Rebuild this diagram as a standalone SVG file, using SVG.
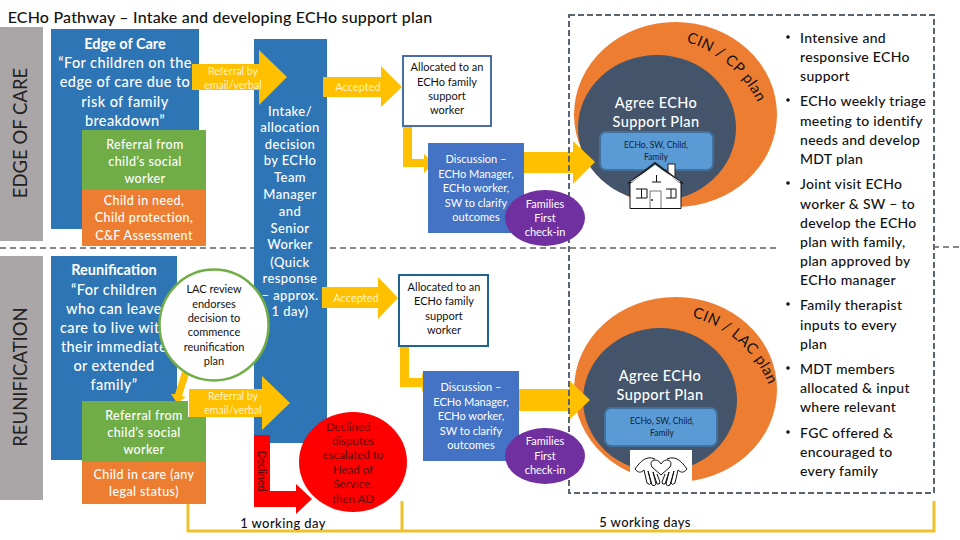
<svg xmlns="http://www.w3.org/2000/svg" width="960" height="540" viewBox="0 0 960 540">
<style>
text{font-family:"Lato","Liberation Sans",sans-serif;text-anchor:middle}
.w{fill:#fff}.k{fill:#111}
.s12{font-size:12.5px}.s11{font-size:11px}.s10{font-size:10.5px}.s13{font-size:13px}.s14{font-size:14.5px}.s8{font-size:8.5px}
.b{font-weight:700}.m{font-weight:500;letter-spacing:.4px}
.ya{fill:#ffc000}.ra{fill:#f00}
.bl{fill:#2e75b6}.gr{fill:#70ad47}.or{fill:#ed7d31}.nv{fill:#44546a}
.gb{fill:#aaa6a7}.pu{fill:#7030a0}
.pill{fill:#5b9bd5;stroke:#41719c;stroke-width:2}
.dash{fill:none;stroke:#111;stroke-width:1;stroke-dasharray:6 4}
.tl{fill:none;stroke:#eec22d;stroke-width:3}
.bul text{text-anchor:start;font-size:14px;fill:#111;font-weight:500;letter-spacing:.3px}
.cv{font-size:15px;fill:#111;text-anchor:start;letter-spacing:.5px}
.rt{fill:#5c0a0a;font-size:11.5px}
.ln{fill:none;stroke:#111;stroke-width:1}
.band{font-size:18.5px;fill:#222}
</style>
<rect width="960" height="540" fill="#fff"/>
<text id="title" x="220" y="23" style="font-size:16px;letter-spacing:.2px" class="k m">ECHo Pathway – Intake and developing ECHo support plan</text>
<path class="dash" d="M0 248H777M933 247H960"/>

<g id="band-edge"><rect class="gb" x="0" y="27" width="43" height="214"/>
<text class="band" transform="translate(27 133) rotate(-90)">EDGE OF CARE</text></g>
<g id="band-reunification"><rect class="gb" x="0" y="256" width="43" height="244"/>
<text class="band" transform="translate(27 377) rotate(-90)">REUNIFICATION</text></g>

<g id="edge-of-care"><rect class="bl" x="51" y="29" width="148" height="200"/>
<text class="w s14 b" x="125" y="49">Edge of Care</text>
<text class="w s14 m" x="125" y="68">“For children on the</text>
<text class="w s14 m" x="125" y="87">edge of care due to</text>
<text class="w s14 m" x="125" y="107">risk of family</text>
<text class="w s14 m" x="125" y="126">breakdown”</text></g>
<g id="edge-referral"><rect class="gr" x="82" y="130" width="124" height="60"/>
<text class="w s12 m" x="145" y="149">Referral from</text><text class="w s12 m" x="145" y="166">child’s social</text><text class="w s12 m" x="145" y="183">worker</text></g>
<g id="edge-need"><rect class="or" x="82" y="190" width="124" height="56"/>
<text class="w s12 m" x="144" y="205">Child in need,</text><text class="w s12 m" x="144" y="222">Child protection,</text><text class="w s12 m" x="144" y="240">C&amp;F Assessment</text></g>

<g id="reunification"><rect class="bl" x="51" y="256" width="126" height="204"/>
<text class="w s14 b" x="114" y="275">Reunification</text>
<text class="w s14 m" x="114" y="295">“For children</text>
<text class="w s14 m" x="114" y="314">who can leave</text>
<text class="w s14 m" x="114" y="333">care to live with</text>
<text class="w s14 m" x="114" y="352">their immediate</text>
<text class="w s14 m" x="114" y="371">or extended</text>
<text class="w s14 m" x="114" y="390">family”</text></g>

<g id="intake"><rect class="bl" x="254" y="39" width="73" height="404"/>
<text class="w s13 m" x="290" y="116">Intake/</text><text class="w s13 m" x="290" y="132">allocation</text><text class="w s13 m" x="290" y="149">decision</text><text class="w s13 m" x="290" y="165">by ECHo</text><text class="w s13 m" x="290" y="182">Team</text><text class="w s13 m" x="290" y="199">Manager</text><text class="w s13 m" x="290" y="216">and</text><text class="w s13 m" x="290" y="233">Senior</text><text class="w s13 m" x="290" y="249">Worker</text><text class="w s13 m" x="290" y="267">(Quick</text><text class="w s13 m" x="290" y="283">response</text><text class="w s13 m" x="290" y="300">– approx.</text><text class="w s13 m" x="290" y="316">1 day)</text></g>

<defs>
<path id="arc1" d="M686 42A115 115 0 0 1 760 108L775 140"/>
<path id="arc2" d="M692 317A115 115 0 0 1 770 388L785 420"/>
</defs>

<g id="plan-top">
<ellipse class="or" cx="675.5" cy="114.5" rx="101.5" ry="92.5"/>
<ellipse class="nv" cx="657" cy="128" rx="79" ry="73"/>
<text class="cv"><textPath href="#arc1">CIN / CP plan</textPath></text>
<text class="w s14 m" x="656" y="108">Agree ECHo</text><text class="w s14 m" x="656" y="127">Support Plan</text>
<rect class="pill" x="600" y="132" width="113" height="38" rx="6"/>
<text class="s8" fill="#10203a" x="656" y="148">ECHo, SW, Child,</text><text class="s8" fill="#10203a" x="656" y="160">Family</text>
</g>
<g id="house">
<rect x="668" y="164" width="7" height="14" fill="#fff" stroke="#222"/>
<polygon points="630,202 630,184 655,165 681,184 681,209 630,209" fill="#fff"/>
<path d="M628 184L655 163L683 184" fill="none" stroke="#222" stroke-width="2"/>
<path d="M631 182L655 166L680 182" fill="none" stroke="#fff"/>
<path class="ln" d="M630 184V208.500H681V184M636 189H647V198H636M641.500 189V198M666 189H676V198H666M671 189V198M652 182H661M656.500 175V182"/>
<path d="M650 208V191H661V208" fill="none" stroke="#777"/>
<circle cx="652" cy="200" r="1" fill="#222"/>
</g>

<g id="plan-bottom">
<ellipse class="or" cx="675.500" cy="389.500" rx="101.500" ry="92.500"/>
<ellipse class="nv" cx="660" cy="400" rx="77" ry="72"/>
<text class="cv"><textPath href="#arc2">CIN / LAC plan</textPath></text>
<text class="w s14 m" x="660" y="381">Agree ECHo</text><text class="w s14 m" x="660" y="400">Support Plan</text>
<rect class="pill" x="605" y="408" width="112" height="38" rx="6"/>
<text class="s8" fill="#10203a" x="662" y="424">ECHo, SW, Child,</text><text class="s8" fill="#10203a" x="662" y="436">Family</text>
</g>
<g id="hands">
<rect x="630" y="450" width="62" height="43" fill="#fff"/>
<path class="ln" d="M661 464C657 457 648 460 652 467L661 475L670 467C674 460 665 457 661 464Z"/>
<path class="ln" stroke-width="1.200" d="M655 459C646 455 640 462 635 469C638 473 641 473 644 470L647 483Q650 486 651 483L648 471L652 485Q655 487 656 484L653 472L657 484Q660 485 660 482L657 474"/>
<path class="ln" stroke-width="1.200" transform="translate(1322 0) scale(-1 1)" d="M655 459C646 455 640 462 635 469C638 473 641 473 644 470L647 483Q650 486 651 483L648 471L652 485Q655 487 656 484L653 472L657 484Q660 485 660 482L657 474"/>
</g>

<g id="connectors">
<polygon class="ya" points="192,64 259,64 259,50 287,77 259,105 259,90 192,90"/>
<polygon class="ya" points="323,77 381,77 381,66 402,87 381,107 381,97 323,97"/>
<polygon class="ya" points="403,126 412,126 412,159 424,159 424,154 434,163 424,173 424,167 403,167"/>
<polygon class="ya" points="524,152 573,152 573,141 595,162 573,184 573,173 524,173"/>
<polygon class="ya" points="189,389 262,389 262,376 290,403 262,430 262,417 189,417"/>
<polygon class="ya" points="322,287 378,287 378,277 398,298 378,319 378,308 322,308"/>
<polygon class="ya" points="400,346 409,346 409,378 422,378 422,373 430,382 422,392 422,387 400,387"/>
<polygon class="ya" points="519,389 569,389 569,380 590,400 569,420 569,411 519,411"/>
<polygon class="ya" points="182,372 189,374 182,396 186,397 177,403 171,394 175,394"/>
<polygon class="ra" points="254,435 270,435 270,491 296,491 296,484 312,499 296,514 296,507 254,507"/>
<path class="tl" d="M188 503V531H934V501M402 501V531"/>
</g>

<g id="arrow-labels">
<text class="s10" fill="#fff3cc" x="233" y="75">Referral by</text><text class="s10" fill="#fff3cc" x="233" y="89">email/verbal</text>
<text class="s11" fill="#fff3cc" x="358" y="91">Accepted</text>
<text class="s11" fill="#fff3cc" x="356" y="302">Accepted</text>
<text class="s10" fill="#fff3cc" x="233" y="400">Referral by</text><text class="s10" fill="#fff3cc" x="233" y="414">email/verbal</text>
<text class="s10" fill="#400" transform="translate(258 471) rotate(90)">Declined</text>
</g>

<g id="reunification-referral"><rect class="gr" x="82" y="401" width="106" height="61"/><rect class="gr" x="188" y="417" width="18" height="45"/>
<text class="w s12 m" x="144" y="420">Referral from</text><text class="w s12 m" x="144" y="437">child’s social</text><text class="w s12 m" x="144" y="454">worker</text></g>
<g id="reunification-care"><rect class="or" x="82" y="462" width="124" height="42"/>
<text class="w s12 m" x="144" y="479">Child in care (any</text><text class="w s12 m" x="144" y="496">legal status)</text></g>

<g id="lac-review"><ellipse cx="214" cy="325" rx="54.5" ry="55.5" fill="#fff" stroke="#70ad47" stroke-width="2.5"/>
<text class="k s11" x="214" y="293">LAC review</text><text class="k s11" x="214" y="308">endorses</text><text class="k s11" x="214" y="322">decision to</text><text class="k s11" x="214" y="336">commence</text><text class="k s11" x="214" y="351">reunification</text><text class="k s11" x="214" y="365">plan</text></g>

<g id="declined"><ellipse cx="353" cy="462" rx="54" ry="50" fill="#f00"/>
<text class="rt" x="353" y="431">Declined –</text><text class="rt" x="353" y="445">disputes</text><text class="rt" x="353" y="459">escalated to</text><text class="rt" x="353" y="474">Head of</text><text class="rt" x="353" y="488">Service,</text><text class="rt" x="353" y="503">then AD</text></g>

<g id="allocated-1"><rect x="403" y="56" width="88" height="70" fill="#fff" stroke="#4a6ea8" stroke-width="2"/>
<text class="k s11" x="447" y="71">Allocated to an</text><text class="k s11" x="447" y="86">ECHo family</text><text class="k s11" x="447" y="100">support</text><text class="k s11" x="447" y="114">worker</text></g>
<g id="allocated-2"><rect x="399" y="275" width="89" height="71" fill="#fff" stroke="#1f6391" stroke-width="2"/>
<text class="k s11" x="444" y="291">Allocated to an</text><text class="k s11" x="444" y="305">ECHo family</text><text class="k s11" x="444" y="320">support</text><text class="k s11" x="444" y="334">worker</text></g>

<g id="discussion-1"><rect x="428" y="143" width="96" height="90" fill="#4472c4"/>
<text class="w s11" x="476" y="163">Discussion –</text><text class="w s11" x="476" y="178">ECHo Manager,</text><text class="w s11" x="476" y="192">ECHo worker,</text><text class="w s11" x="476" y="207">SW to clarify</text><text class="w s11" x="476" y="221">outcomes</text></g>
<g id="discussion-2"><rect x="423" y="371" width="96" height="90" fill="#4472c4"/>
<text class="w s11" x="471" y="391">Discussion –</text><text class="w s11" x="471" y="406">ECHo Manager,</text><text class="w s11" x="471" y="420">ECHo worker,</text><text class="w s11" x="471" y="435">SW to clarify</text><text class="w s11" x="471" y="449">outcomes</text></g>

<rect id="support-frame" x="569" y="15" width="365" height="478" fill="none" stroke="#5a6470" stroke-width="2" stroke-dasharray="6 3"/>

<g id="families-1"><ellipse class="pu" cx="545" cy="218" rx="40" ry="28"/>
<text class="w s11" x="545" y="208">Families</text><text class="w s11" x="545" y="222">First</text><text class="w s11" x="545" y="236">check-in</text></g>
<g id="families-2"><ellipse class="pu" cx="545" cy="456" rx="40" ry="28"/>
<text class="w s11" x="545" y="445">Families</text><text class="w s11" x="545" y="460">First</text><text class="w s11" x="545" y="474">check-in</text></g>

<g id="notes" class="bul">
<g fill="#111">
<circle cx="788" cy="37" r="1.800"/><circle cx="788" cy="100" r="1.800"/><circle cx="788" cy="183" r="1.800"/><circle cx="788" cy="304" r="1.800"/><circle cx="788" cy="368" r="1.800"/><circle cx="788" cy="432" r="1.800"/>
</g>
<text x="800" y="43">Intensive and</text><text x="800" y="62">responsive ECHo</text><text x="800" y="81">support</text>
<text x="800" y="106">ECHo weekly triage</text><text x="800" y="126">meeting to identify</text><text x="800" y="145">needs and develop</text><text x="800" y="164">MDT plan</text>
<text x="800" y="189">Joint visit ECHo</text><text x="800" y="209">worker &amp; SW – to</text><text x="800" y="228">develop the ECHo</text><text x="800" y="247">plan with family,</text><text x="800" y="266">plan approved by</text><text x="800" y="285">ECHo manager</text>
<text x="800" y="310">Family therapist</text><text x="800" y="330">inputs to every</text><text x="800" y="349">plan</text>
<text x="800" y="374">MDT members</text><text x="800" y="393">allocated &amp; input</text><text x="800" y="412">where relevant</text>
<text x="800" y="438">FGC offered &amp;</text><text x="800" y="457">encouraged to</text><text x="800" y="476">every family</text>
</g>

<g id="timeline-labels">
<text class="k s13 m" x="283" y="528">1 working day</text>
<text class="k s13 m" x="645" y="527">5 working days</text>
</g>
</svg>
